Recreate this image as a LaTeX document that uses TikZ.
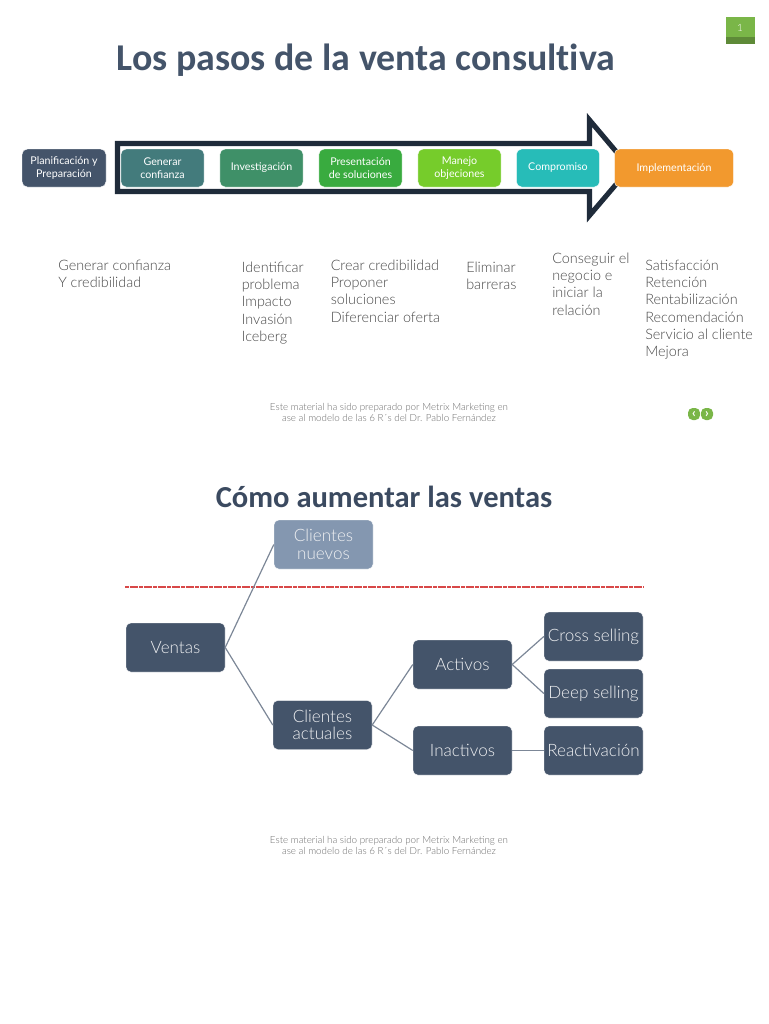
\documentclass[tikz,border=0pt]{standalone}
\usepackage{fontspec}
\setmainfont{Lato}
\newfontfamily\lightfont{Lato Light}
\newfontfamily\titlefont[Ligatures=NoCommon]{Carlito}
\definecolor{slate}{HTML}{44546A}
\definecolor{slatedark}{HTML}{3B4A60}
\definecolor{arrowink}{HTML}{1F2B3A}
\definecolor{bluegray}{HTML}{8497B0}
\definecolor{badge}{HTML}{7AB648}
\definecolor{badgedark}{HTML}{5E8A38}
\definecolor{rojo}{HTML}{D84848}
\newcommand{\sz}[2]{\fontsize{#1}{#2}\selectfont}

\begin{document}
\begin{tikzpicture}[x=0.75pt,y=-0.75pt]
                        \tikzstyle{paso}=[draw=white,line width=0.3pt,rounded corners=4pt,minimum height=28.5pt,inner sep=0pt,text=white,align=center,font=\sz{8}{9.6}]
                        \tikzstyle{caja}=[draw=white,line width=0.3pt,fill=slate,rounded corners=3.5pt,minimum width=74.25pt,minimum height=36.75pt,inner sep=0pt,text=white!92!slate,align=center,font=\lightfont\sz{12.8}{13.2}]
                        \tikzstyle{lista}=[anchor=north west,inner sep=0pt,align=left,text=black!72,font=\lightfont\sz{10.8}{13}]
                        \tikzstyle{pie}=[anchor=center,inner sep=0pt,align=center,text=black!58,font=\lightfont\sz{7.35}{8.8}]
                        \tikzstyle{rama}=[draw=slate!70,line width=0.9pt]
                        \tikzstyle{titulo}=[anchor=center,inner sep=0pt,text=slate,font=\titlefont\bfseries]
                        \tikzstyle{flecha}=[rounded corners=3.5pt,fill=badge,minimum size=9pt,inner sep=0pt,text=white,font=\bfseries\sz{9.5}{9.5}]
                        \useasboundingbox (0,0) rectangle (768,1024);
                        % page number
                        \fill[badge] (726,17) rectangle (755,44);
                        \fill[badgedark] (726,37) rectangle (755,44);
                        \node[text=white,inner sep=0pt,font=\lightfont\sz{7.5}{8}] (numero) at (740,28) {1};
                        % first slide
                        \node[titulo,font=\titlefont\bfseries\sz{28.4}{30}] (titulo1) at (366,60.5) {Los pasos de la venta consultiva};
                        \draw[arrowink,line width=3.8pt,miter limit=10] (117.5,143.5) -- (589.5,143.5) -- (589.5,120) -- (630,168) -- (589.5,215.5) -- (589.5,191.5) -- (117.5,191.5) -- cycle;
                        \node[paso,fill=slate,minimum width=63pt] (plan) at (64,168) {Planificación y\\Preparación};
                        \node[paso,minimum width=62.5pt,fill={rgb,255:red,67;green,123;blue,124}] (confianza) at (162.5,168) {Generar\\confianza};
                        \node[paso,minimum width=62.5pt,fill={rgb,255:red,63;green,144;blue,104}] (investigacion) at (261.5,168) {Investigación};
                        \node[paso,minimum width=62.5pt,fill={rgb,255:red,57;green,171;blue,63}] (soluciones) at (360.5,168) {Presentación\\de soluciones};
                        \node[paso,minimum width=62.5pt,fill={rgb,255:red,118;green,204;blue,43}] (objeciones) at (459.5,168) {Manejo\\objeciones};
                        \node[paso,minimum width=62.5pt,fill={rgb,255:red,39;green,188;blue,184}] (compromiso) at (558,168) {Compromiso};
                        \node[paso,minimum width=89.5pt,fill={rgb,255:red,242;green,153;blue,46}] (implementacion) at (674,168) {Implementación};
                        \node[lista] (txtconfianza) at (58,259.5) {Generar confianza\\Y credibilidad};
                        \node[lista] (txtinvestiga) at (241.5,261.5) {Identificar\\problema\\Impacto\\Invasión\\Iceberg};
                        \node[lista] (txtsoluciones) at (330.5,259.5) {Crear credibilidad\\Proponer\\soluciones\\Diferenciar oferta};
                        \node[lista] (txtobjeciones) at (466,261.5) {Eliminar\\barreras};
                        \node[lista] (txtcompromiso) at (552,252.5) {Conseguir el\\negocio e\\iniciar la\\relación};
                        \node[lista] (txtimplementa) at (645,259.5) {Satisfacción\\Retención\\Rentabilización\\Recomendación\\Servicio al cliente\\Mejora};
                        \node[pie] (pie1) at (389,412.5) {Este material ha sido preparado por Metrix Marketing en\\ase al modelo de las 6 R´s del Dr. Pablo Fernández};
                        \node[flecha] (atras) at (694,414) {‹};
                        \node[flecha] (adelante) at (707,414) {›};
                        % second slide
                        \node[titulo,text=slatedark,font=\titlefont\bfseries\sz{22.9}{24}] (titulo2) at (384,497) {Cómo aumentar las ventas};
                        \draw[draw=rojo,line width=0.8pt,dash pattern=on 3pt off 0.5pt] (125,587) -- (644,587);
                        \node[caja] (ventas) at (175.5,647.5) {Ventas};
                        \node[caja,fill=bluegray] (nuevos) at (323.5,544.5) {Clientes\\nuevos};
                        \node[caja] (actuales) at (322.5,725) {Clientes\\actuales};
                        \node[caja] (activos) at (462.5,664.5) {Activos};
                        \node[caja] (inactivos) at (462.5,750.5) {Inactivos};
                        \node[caja] (cross) at (593.5,636.5) {Cross selling};
                        \node[caja] (deep) at (593.5,693.5) {Deep selling};
                        \node[caja] (reactivacion) at (593.5,750.5) {Reactivación};
                        \draw[rama] (ventas.east) -- (nuevos.west);
                        \draw[rama] (ventas.east) -- (actuales.west);
                        \draw[rama] (actuales.east) -- (activos.west);
                        \draw[rama] (actuales.east) -- (inactivos.west);
                        \draw[rama] (activos.east) -- (cross.west);
                        \draw[rama] (activos.east) -- (deep.west);
                        \draw[rama] (inactivos.east) -- (reactivacion.west);
                        \node[pie] (pie2) at (389,845.5) {Este material ha sido preparado por Metrix Marketing en\\ase al modelo de las 6 R´s del Dr. Pablo Fernández};
\end{tikzpicture}
\end{document}
